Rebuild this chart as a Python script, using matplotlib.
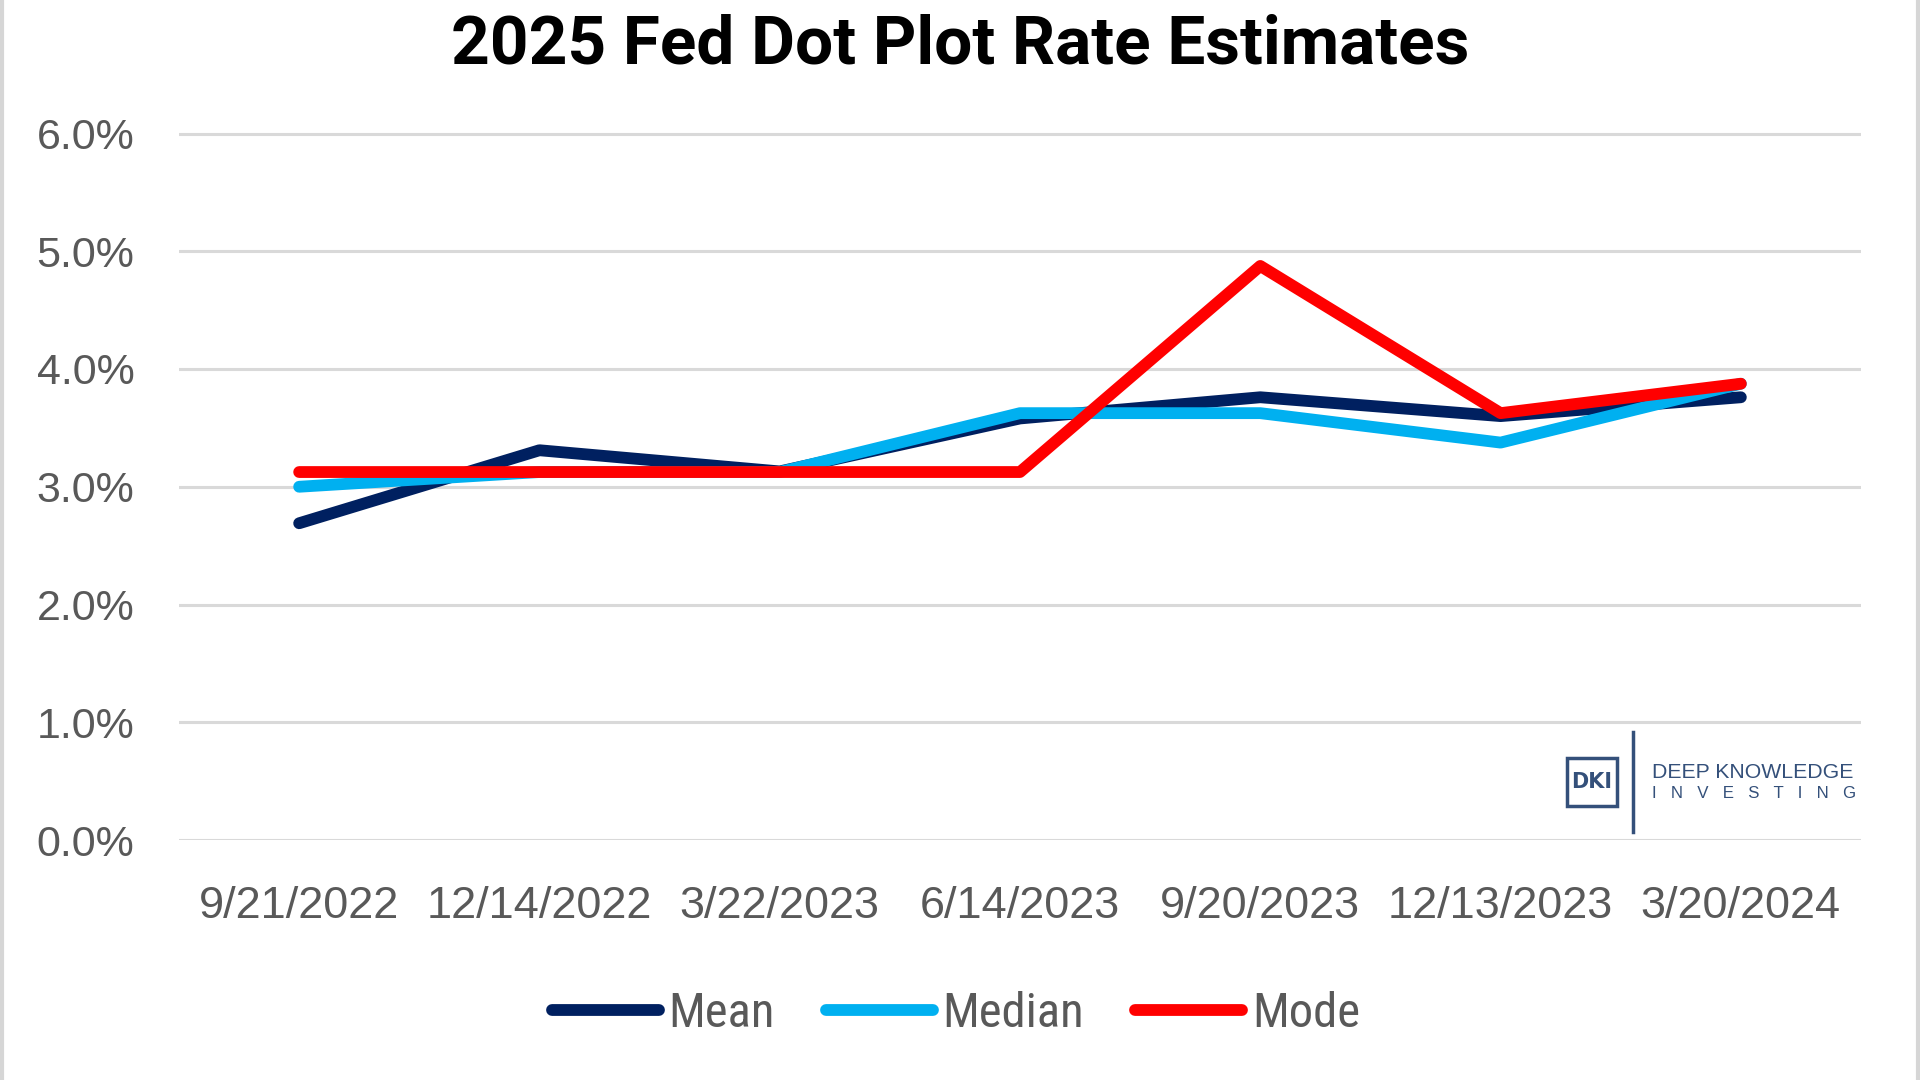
import matplotlib.pyplot as plt
from matplotlib.patches import Rectangle
from matplotlib.lines import Line2D

# chart data (2025 year-end rate estimates, %)
dates = ['9/21/2022', '12/14/2022', '3/22/2023', '6/14/2023',
         '9/20/2023', '12/13/2023', '3/20/2024']
mean_vals = [2.69, 3.31, 3.13, 3.58, 3.76, 3.60, 3.76]
median_vals = [3.00, 3.125, 3.125, 3.625, 3.625, 3.375, 3.875]
mode_vals = [3.125, 3.125, 3.125, 3.125, 4.875, 3.625, 3.875]
y_ticks = [0, 1, 2, 3, 4, 5, 6]

W, H = 1920, 1080
grey = '#595959'
narrow = ['Roboto Condensed', 'Roboto', 'DejaVu Sans']

fig = plt.figure(figsize=(W / 100, H / 100), dpi=100)
fig.patch.set_facecolor('white')

# axes placed in pixel terms
left, right = 179, 1861
y0, y6 = 840, 133.5
ymax = 6.05
px_per_unit = (y0 - y6) / 6
top = y0 - px_per_unit * ymax
ax = fig.add_axes([left / W, 1 - y0 / H, (right - left) / W, (y0 - top) / H])

x = list(range(len(dates)))
ax.plot(x, mean_vals, color='#002060', lw=8.5, solid_capstyle='round',
        solid_joinstyle='round', label='Mean', zorder=3)
ax.plot(x, median_vals, color='#00B0F0', lw=8.5, solid_capstyle='round',
        solid_joinstyle='round', label='Median', zorder=4)
ax.plot(x, mode_vals, color='#FF0000', lw=8.5, solid_capstyle='round',
        solid_joinstyle='round', label='Mode', zorder=5)

ax.set_xlim(-0.5, len(dates) - 0.5)
ax.set_ylim(0, ymax)
ax.set_yticks(y_ticks)
ax.set_yticklabels([f'{v:.1f}%' for v in y_ticks])
ax.set_xticks(x)
ax.set_xticklabels(dates)
ax.tick_params(axis='both', length=0, labelcolor=grey)
ax.tick_params(axis='y', pad=32, labelsize=31)
ax.tick_params(axis='x', pad=33, labelsize=32.5)
for lab in ax.get_xticklabels() + ax.get_yticklabels():
    lab.set_family(['Liberation Sans', 'DejaVu Sans'])
ax.grid(axis='y', color='#d9d9d9', lw=2.2, zorder=0)
ax.set_axisbelow(True)
for s in ax.spines.values():
    s.set_visible(False)

# title
fig.text(960 / W, 1 - 46 / H, '2025 Fed Dot Plot Rate Estimates',
         ha='center', va='center', fontsize=48.6, fontweight='bold',
         family=['Roboto', 'DejaVu Sans'], color='black')

# legend
leg = fig.legend(loc='center', bbox_to_anchor=(956 / W, 1 - 1014 / H),
                 ncol=3, frameon=False, handlelength=2.2, handletextpad=0.2,
                 columnspacing=1.05, prop={'family': narrow, 'size': 35})
for t in leg.get_texts():
    t.set_color(grey)

# DKI logo
logo_col = '#34507a'
fig.patches.append(Rectangle((1567 / W, 1 - 806 / H), 50 / W, 48 / H,
                             transform=fig.transFigure, fill=False,
                             edgecolor=logo_col, lw=2.5))
fig.text(1592 / W, 1 - 782 / H, 'DKI', ha='center', va='center',
         fontsize=15, fontweight='bold', color=logo_col, family='DejaVu Sans')
fig.lines.append(Line2D([1633 / W, 1633 / W], [1 - 732 / H, 1 - 832 / H],
                        transform=fig.transFigure, color=logo_col, lw=2.5))
fig.text(1652 / W, 1 - 772 / H, 'DEEP KNOWLEDGE', ha='left', va='center',
         fontsize=15.3, color=logo_col, family='Liberation Sans')
fig.text(1652 / W, 1 - 793 / H, 'I   N   V   E   S   T   I   N   G', ha='left',
         va='center', fontsize=12.2, color=logo_col, family='Liberation Sans')

# thin grey frame at the sides
fig.lines.append(Line2D([1.5 / W, 1.5 / W], [0, 1], transform=fig.transFigure,
                        color='#d6d6d6', lw=3))
fig.lines.append(Line2D([1 - 2.5 / W, 1 - 2.5 / W], [0, 1],
                        transform=fig.transFigure, color='#d6d6d6', lw=3))

fig.savefig('out.png', dpi=100)
